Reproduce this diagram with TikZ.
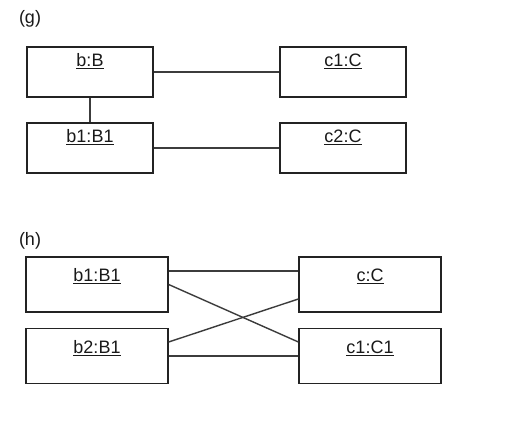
\documentclass[tikz,border=0pt]{standalone}
\usepackage{fontspec}
\setmainfont{Liberation Sans}
\definecolor{boxline}{RGB}{35,35,35}
\definecolor{conn}{RGB}{60,60,60}
\definecolor{txt}{RGB}{25,25,25}
\begin{document}
\begin{tikzpicture}[x=1pt,y=-1pt,
  obj/.style={draw=boxline, line width=1.3pt, rectangle, inner sep=0pt,
    minimum width=#1, fill=white},
  gbox/.style={obj=126pt, minimum height=50pt},
  hbox/.style={obj=142pt, minimum height=55pt},
  conn/.style={draw=conn, line width=1.4pt},
  lbl/.style={font=\fontsize{18}{21}\selectfont, text=txt},
  otxt/.style={lbl, anchor=base, label distance=0pt, yshift=-#1}
]
\useasboundingbox (0,0) rectangle (522,435);
\fill[white] (0,0) rectangle (522,435);

% (g)
\node[lbl] (glabel) at (30,19) {(g)};
\node[gbox, label={[otxt=20.5pt]north:\underline{b:B}}] (gb) at (90,72) {};
\node[gbox, label={[otxt=20.5pt]north:\underline{b1:B1}}] (gb1) at (90,148) {};
\node[gbox, label={[otxt=20.5pt]north:\underline{c1:C}}] (gc1) at (343,72) {};
\node[gbox, label={[otxt=20.5pt]north:\underline{c2:C}}] (gc2) at (343,148) {};
\draw[conn] (gb.east) -- (gc1.west);
\draw[conn] (gb1.east) -- (gc2.west);
\draw[conn] (gb.south) -- (gb1.north);

% (h)
\node[lbl] (hlabel) at (30,241) {(h)};
\node[hbox, label={[otxt=25.5pt]north:\underline{b1:B1}}] (hb1) at (97,284.5) {};
\node[hbox, label={[otxt=25.5pt]north:\underline{b2:B1}}] (hb2) at (97,356) {};
\node[hbox, label={[otxt=25.5pt]north:\underline{c:C}}] (hc) at (370,284.5) {};
\node[hbox, label={[otxt=25.5pt]north:\underline{c1:C1}}] (hc1) at (370,356) {};
\draw[conn] ([yshift=13.5pt]hb1.east) -- ([yshift=13.5pt]hc.west);
\draw[conn] (hb2.east) -- (hc1.west);
\draw[conn] (hb1.east) -- ([yshift=14pt]hc1.west);
\draw[conn] ([yshift=14pt]hb2.east) -- ([yshift=-14.5pt]hc.west);
\end{tikzpicture}
\end{document}
